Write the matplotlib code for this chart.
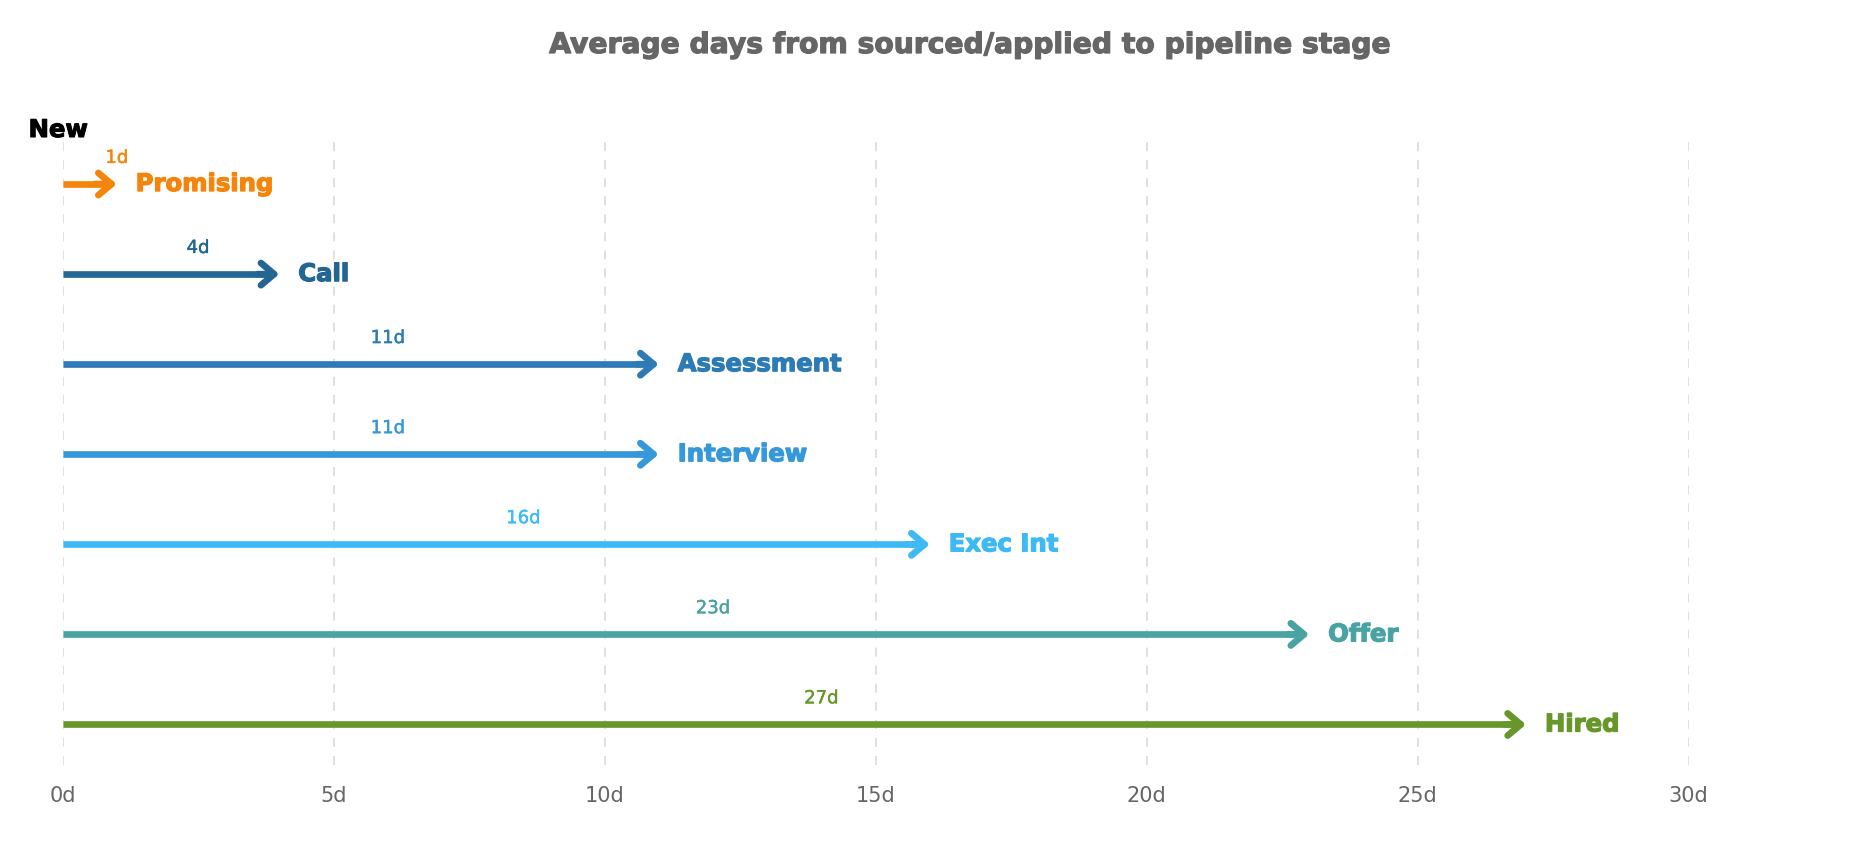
import matplotlib
matplotlib.use("Agg")
import matplotlib.pyplot as plt
import matplotlib.patheffects as pe

plt.rcParams["font.family"] = ["DejaVu Sans"]

stages = ["Promising", "Call", "Assessment", "Interview", "Exec Int", "Offer", "Hired"]
days = [1, 4, 11, 11, 16, 23, 27]
colors = ["#F5850A", "#236693", "#2C7BB4", "#3498DB", "#3DB9F5", "#4AA3A3", "#67972A"]
xticks = [0, 5, 10, 15, 20, 25, 30]
title = "Average days from sourced/applied to pipeline stage"
origin_label = "New"

W, H, DPI = 1850, 858, 100
fig = plt.figure(figsize=(W / DPI, H / DPI), dpi=DPI)
x0_px, x30_px = 62.5, 1688.6
top_px, bot_px = 139, 765
ax = fig.add_axes([x0_px / W, 1 - bot_px / H, (x30_px - x0_px) / W, (bot_px - top_px) / H])
ax.set_xlim(0, 30)
ax.set_ylim(6.45, -0.5)
for s in ax.spines.values():
    s.set_visible(False)
ax.set_yticks([])
ax.set_xticks(xticks)
ax.set_xticklabels([f"{t}d" for t in xticks])
ax.tick_params(axis="x", length=0, pad=15, labelsize=15, labelcolor="#666666")
for t in xticks:
    ax.axvline(t, color="#dddddd", lw=1.3, ls=(0, (5, 5)), zorder=0)

LW = 4.8
for i, (name, v, c) in enumerate(zip(stages, days, colors)):
    ax.hlines(i, 0, v - 0.2, color=c, lw=LW, capstyle="butt", zorder=3)
    ax.annotate("", xy=(v, i), xytext=(v - 0.4, i),
                arrowprops=dict(arrowstyle="->,head_length=9.5,head_width=8",
                                mutation_scale=1, lw=LW, color=c,
                                capstyle="round", joinstyle="round",
                                shrinkA=0, shrinkB=0), zorder=4)
    ax.text(v + 0.35, i, name, color=c, fontsize=17.5, fontweight="bold",
            ha="left", va="center", clip_on=False,
            path_effects=[pe.withStroke(linewidth=0.9, foreground=c)])
    ax.text((v + 1) / 2, i - 0.29, f"{v}d", color=c, fontsize=13,
            ha="center", va="center", clip_on=False,
            path_effects=[pe.withStroke(linewidth=0.3, foreground=c)])

ax.text(-0.08, -0.6, origin_label, fontsize=17.5, fontweight="bold", color="black",
        ha="center", va="center", clip_on=False,
        path_effects=[pe.withStroke(linewidth=0.8, foreground="black")])

fig.text(971.7 / W, 1 - 45 / H, title, fontsize=20.3, fontweight="bold",
         color="#666666", ha="center", va="center",
         path_effects=[pe.withStroke(linewidth=0.9, foreground="#666666")])

fig.savefig("out.png", dpi=DPI)
